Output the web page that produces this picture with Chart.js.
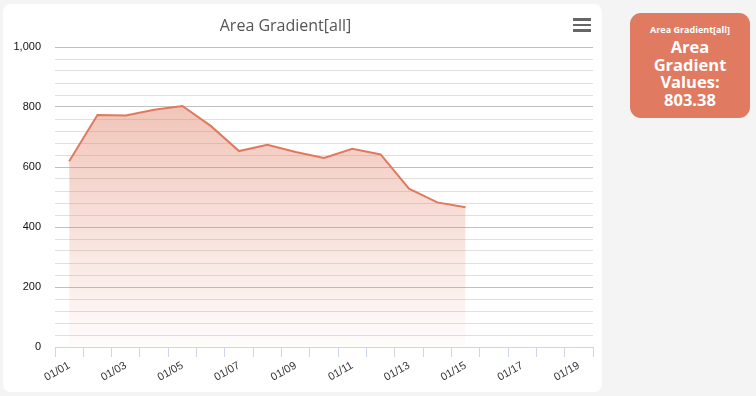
<!DOCTYPE html>
<html>
<head>
<meta charset="utf-8">
<script src="https://cdn.jsdelivr.net/npm/chart.js@4"></script>
<style>
  body { margin: 0; background: #f4f4f4; width: 756px; height: 396px; overflow: hidden; font-family: "Open Sans", sans-serif; }
  #card { position: absolute; left: 3px; top: 4px; width: 599px; height: 388px; background: #fff; border-radius: 8px; }
  #chart { position: absolute; left: 0; top: 0; }
  #title { position: absolute; left: 0; top: 10px; width: 565px; text-align: center; font-size: 16px; color: #555; }
  #menu { position: absolute; left: 570px; top: 14px; width: 18px; }
  #menu div { height: 2.5px; background: #666; margin-bottom: 3px; }
  #badge { position: absolute; left: 630px; top: 13px; width: 120px; height: 105px; background: #e07b61; border-radius: 11px; color: #fff; text-align: center; font-weight: bold; }
  #badge .small { font-size: 9px; margin-top: 10px; }
  #badge .big { font-size: 16.5px; line-height: 17.5px; margin-top: 2px; }
</style>
</head>
<body>
<div id="card">
  <canvas id="chart" width="599" height="388"></canvas>
  <div id="title">Area Gradient[all]</div>
  <div id="menu"><div></div><div></div><div></div></div>
</div>
<div id="badge">
  <div class="small">Area Gradient[all]</div>
  <div class="big">Area<br>Gradient<br>Values:<br>803.38</div>
</div>
<script>
// datos
const fechas = ["01/01","01/02","01/03","01/04","01/05","01/06","01/07","01/08","01/09","01/10",
                "01/11","01/12","01/13","01/14","01/15","01/16","01/17","01/18","01/19"];
const valores = [619, 773, 772, 791, 803.38, 737, 653, 674, 650, 630, 661, 642, 528, 482, 466];
const etiquetasY = [0, 200, 400, 600, 800, 1000];

const color = "#e07a5f";

const ctx = document.getElementById("chart").getContext("2d");
const chart = new Chart(ctx, {
  type: "line",
  data: {
    labels: fechas,
    datasets: [{
      label: "Area Gradient[all]",
      data: valores,
      borderColor: color,
      borderWidth: 2,
      pointRadius: 0,
      tension: 0,
      fill: "origin",
      backgroundColor: (c) => {
        const area = c.chart.chartArea;
        if (!area) return "rgba(224,122,95,0.4)";
        const g = c.chart.ctx.createLinearGradient(0, area.top + 50, 0, area.bottom);
        g.addColorStop(0, "rgba(224,122,95,0.45)");
        g.addColorStop(1, "rgba(224,122,95,0.02)");
        return g;
      }
    }]
  },
  options: {
    responsive: false,
    animation: false,
    layout: { padding: { left: 0, top: 43, right: 9, bottom: 0 } },
    plugins: { legend: { display: false }, tooltip: { enabled: false } },
    scales: {
      x: {
        offset: true,
        grid: { drawOnChartArea: false, drawTicks: true, tickLength: 10, color: "#ccd6eb", offset: true },
        border: { color: "#ccd6eb", width: 1 },
        ticks: {
          autoSkip: false,
          minRotation: 30,
          maxRotation: 30,
          padding: 2,
          color: "#333",
          font: { family: "Arial", size: 11 },
          callback: (v, i) => (i % 2 === 0 ? fechas[i] : "")
        },
        afterFit: (s) => { s.height = 45; }
      },
      y: {
        min: 0,
        max: 1000,
        ticks: {
          stepSize: 40,
          maxTicksLimit: 30,
          autoSkip: false,
          padding: 14,
          color: "#111",
          font: { family: "Arial", size: 11 },
          callback: (v) => (etiquetasY.includes(v) ? v.toLocaleString("en-US") : "")
        },
        grid: {
          drawTicks: false,
          color: (c) => (c.tick && c.tick.value % 200 === 0 ? "#c0c0c0" : "#e0e0e0")
        },
        border: { display: false },
        afterFit: (s) => { s.width = 52; }
      }
    }
  }
});
</script>
</body>
</html>
